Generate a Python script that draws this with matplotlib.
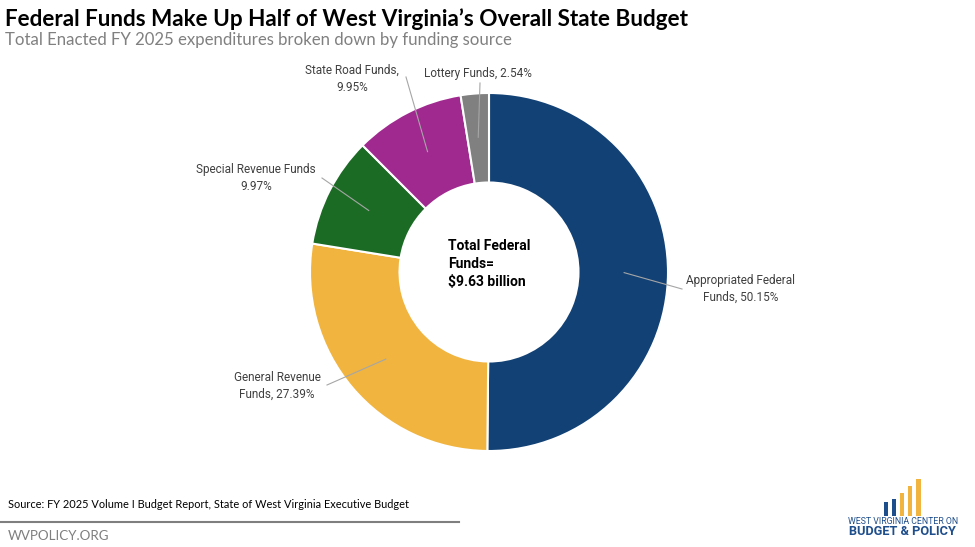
import matplotlib
matplotlib.use("Agg")
import matplotlib.pyplot as plt
from matplotlib.patches import Rectangle
import numpy as np

# Daten
labels = ["Appropriated Federal\nFunds, 50.15%", "General Revenue\nFunds, 27.39%",
          "Special Revenue Funds\n9.97%", "State Road Funds,\n9.95%", "Lottery Funds, 2.54%"]
shares = [50.15, 27.39, 9.97, 9.95, 2.54]
colors = ["#114175", "#F0B43F", "#1B6B24", "#A0298F", "#808080"]

# Label-Positionen (Pixel) und Ausrichtung
label_pos = [(741, 289), (277, 386), (256, 178), (352, 79), (424, 74)]
label_ha = ["center", "center", "center", "center", "left"]
line_ends = [(682, 289), (327, 385), (322, 178), (406, 77), (480, 83)]

W, H = 975, 547
fig = plt.figure(figsize=(W / 100, H / 100), dpi=100)
ax = fig.add_axes([0, 0, 1, 1])

def py(y):
    return H - y

cx, cy, R = 489, py(272), 179
wedges, _ = ax.pie(shares, colors=colors, startangle=90, counterclock=False,
                   center=(cx, cy), radius=R,
                   wedgeprops=dict(width=R * 0.5, edgecolor="white", linewidth=1.5))
ax.set_xlim(0, W)
ax.set_ylim(0, H)
ax.set_aspect("auto")
ax.axis("off")

label_font = "Roboto"
for w, lab, pos, ha, end in zip(wedges, labels, label_pos, label_ha, line_ends):
    mid = np.deg2rad((w.theta1 + w.theta2) / 2)
    x0 = cx + 0.755 * R * np.cos(mid)
    y0 = cy + 0.755 * R * np.sin(mid)
    ax.plot([x0, end[0]], [y0, py(end[1])], color="#A6A6A6", lw=0.8)
    ax.text(pos[0], py(pos[1]), lab, ha=ha, va="center", fontsize=8.5,
            family=label_font, color="#404040", linespacing=1.45)

ax.text(448, py(264), "Total Federal\nFunds=\n$9.63 billion", ha="left", va="center",
        fontsize=10, fontweight="bold", family=label_font, color="black",
        linespacing=1.4)

# Titel
fig.text(5 / W, 1 - 19 / H, "Federal Funds Make Up Half of West Virginia\u2019s Overall State Budget",
         fontsize=16.2, fontweight="bold", family="Lato", color="black", va="center")
fig.text(5 / W, 1 - 40 / H, "Total Enacted FY 2025 expenditures broken down by funding source",
         fontsize=12.1, family="Lato", color="#808080", va="center")

# Quelle und Fusszeile
fig.text(8 / W, 1 - 505 / H, "Source: FY 2025 Volume I Budget Report, State of West Virginia Executive Budget",
         fontsize=7.9, family="Lato", color="black", va="center")
ax.plot([0, 459], [py(521.5), py(521.5)], color="#7F7F7F", lw=1.5, clip_on=False)
fig.text(8 / W, 1 - 536 / H, "WVPOLICY.ORG", fontsize=9.6, family="Lato", color="#7F7F7F", va="center")

# Logo
bars = [(883.5, 501.5, "#1F4E8C"), (891.8, 499, "#1F4E8C"), (900, 493, "#F0B43F"),
        (908.2, 486, "#F0B43F"), (916.3, 479, "#F0B43F")]
for bx, top, c in bars:
    ax.add_patch(Rectangle((bx, py(516)), 4.2, 516 - top, color=c, lw=0))
ax.text(903, py(521.5), "WEST VIRGINIA CENTER ON", ha="center", va="center", fontsize=6.3,
        family="Roboto", color="#1F4E8C")
ax.text(902, py(531.5), "BUDGET & POLICY", ha="center", va="center", fontsize=9.2,
        fontweight="bold", family="Roboto", color="#1F4E8C")

fig.savefig("out.png", dpi=100)
